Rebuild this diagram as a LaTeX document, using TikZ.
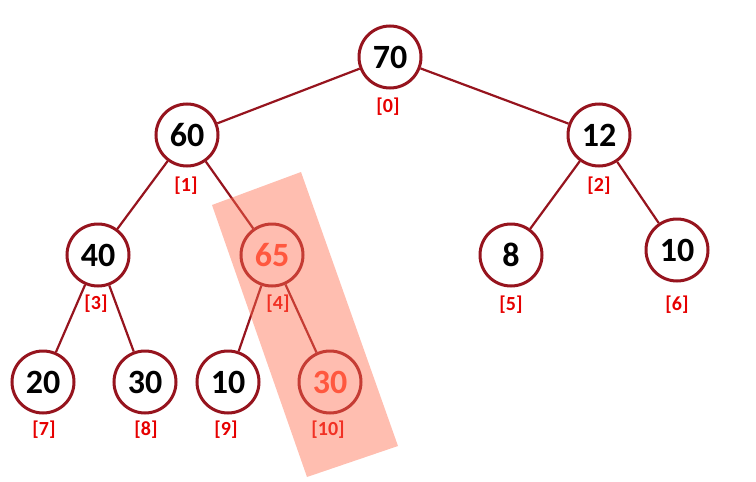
\documentclass[tikz,border=0pt]{standalone}
\usepackage{fontspec}
\setmainfont{Carlito}
\definecolor{salm}{RGB}{255,110,80}
\definecolor{hltxt}{RGB}{255,70,50}
\definecolor{idxred}{RGB}{230,0,0}
\definecolor{dred}{RGB}{150,20,30}
\begin{document}
\begin{tikzpicture}[x=1pt,y=-1pt,
  nd/.style={circle,draw=dred,line width=3pt,fill=white,minimum size=62pt,inner sep=0pt,font=\fontsize{34}{34}\selectfont\bfseries},
  hl/.style={nd,text=hltxt},
  idx/.style={text=idxred,font=\fontsize{20}{20}\selectfont\bfseries},
  ed/.style={draw=dred,line width=2.2pt}]
\useasboundingbox (0,0) rectangle (756,482);
\node[nd] (n0) at (390,57) {70};
\node[nd] (n1) at (187,135) {60};
\node[nd] (n2) at (599,135) {12};
\node[nd] (n3) at (98,255) {40};
\node[hl] (n4) at (272,255) {65};
\node[nd] (n5) at (511,255) {8};
\node[nd] (n6) at (677,250) {10};
\node[nd] (n7) at (43,382) {20};
\node[nd] (n8) at (145,382) {30};
\node[nd] (n9) at (228,382) {10};
\node[hl] (n10) at (330,382) {30};
\foreach \a/\b in {n0/n1,n0/n2,n1/n3,n1/n4,n2/n5,n2/n6,n3/n7,n3/n8,n4/n9,n4/n10}
  \draw[ed] (\a) -- (\b);
\node[idx] (i0) at (388,107) {[0]};
\node[idx] (i1) at (186,186) {[1]};
\node[idx] (i2) at (599,186) {[2]};
\node[idx] (i3) at (96,304) {[3]};
\node[idx] (i4) at (278,304) {[4]};
\node[idx] (i5) at (511,305) {[5]};
\node[idx] (i6) at (677,305) {[6]};
\node[idx] (i7) at (44,430) {[7]};
\node[idx] (i8) at (146,430) {[8]};
\node[idx] (i9) at (226,430) {[9]};
\node[idx] (i10) at (328,430) {[10]};
\fill[salm,opacity=0.45] (212,205) -- (301,172) -- (398,446) -- (307,477) -- cycle;
\end{tikzpicture}
\end{document}
